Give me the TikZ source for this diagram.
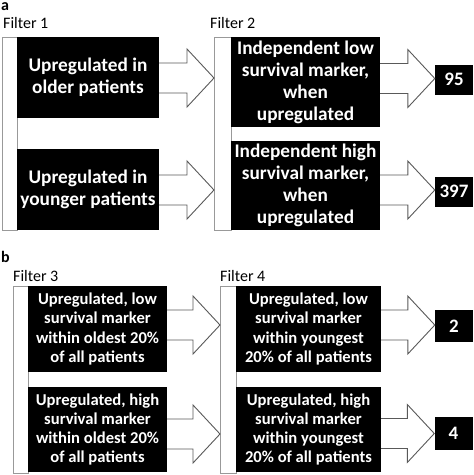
\documentclass[tikz,border=0pt]{standalone}
\usepackage{fontspec}
\setmainfont{Carlito}
\usetikzlibrary{calc}
\newcommand\fatarr[3]{%
 \draw[fat] let \p1=(#1.east), \p2=(#2.west), \p3=(0,#3) in
  (\x1,\y3+15pt) -- (\x2-27pt,\y3+15pt) -- (\x2-27pt,\y3+29pt) -- (\x2,\y3)
  -- (\x2-27pt,\y3-29pt) -- (\x2-27pt,\y3-15pt) -- (\x1,\y3-15pt);}
\begin{document}
\begin{tikzpicture}[x=1pt,y=-1pt,
 bar/.style={draw=black!40, fill=white, line width=0.9pt, inner sep=0pt, anchor=north west},
 blk/.style={fill=black, text=white, font=\bfseries\fontsize{19.3}{22}\selectfont, align=center, inner sep=0pt},
 blkb/.style={blk, font=\bfseries\fontsize{16.6}{19.3}\selectfont},
 num/.style={fill=black, text=white, font=\bfseries\fontsize{19}{22}\selectfont, inner sep=0pt, minimum width=38, minimum height=30},
 lbl/.style={font=\fontsize{16}{19}\selectfont, anchor=base west, inner sep=0pt},
 plab/.style={font=\bfseries\fontsize{16}{19}\selectfont, anchor=base west, inner sep=0pt},
 fat/.style={draw=black!65, fill=white, line width=0.9pt, line join=miter}]
\useasboundingbox (0,0) rectangle (474,475);

% panel a
\node[plab] (la) at (1,10.5) {a};
\node[lbl] (f1l) at (3,28) {Filter 1};
\node[lbl] (f2l) at (210,28) {Filter 2};
\node[bar, minimum width=15, minimum height=193] (f1) at (2,37) {};
\node[bar, minimum width=17, minimum height=193] (f2) at (214,37) {};
\node[blk, minimum width=142, minimum height=81] (a1) at (88,77.5) {Upregulated in\\older patients};
\node[blk, minimum width=142, minimum height=81] (a2) at (88,189.5) {Upregulated in\\younger patients};
\node[blk, minimum width=149, minimum height=90] (a3) at (305.5,82) {Independent low\\survival marker,\\when\\upregulated};
\node[blk, minimum width=149, minimum height=89] (a4) at (305.5,185.5) {Independent high\\survival marker,\\when\\upregulated};
\node[num] (n95) at (454,79.5) {95};
\node[num] (n397) at (454,191.5) {397};
\fatarr{a1}{f2}{78}
\fatarr{a2}{f2}{190}
\fatarr{a3}{n95}{78.5}
\fatarr{a4}{n397}{190}

% panel b
\node[plab] (lb) at (1,262) {b};
\node[lbl] (f3l) at (13,281) {Filter 3};
\node[lbl] (f4l) at (220,281) {Filter 4};
\node[bar, minimum width=15, minimum height=187] (f3) at (13,286) {};
\node[bar, minimum width=16, minimum height=187] (f4) at (220,286) {};
\node[blkb, minimum width=139, minimum height=86] (b1) at (97.5,329) {Upregulated, low\\survival marker\\within oldest 20\%\\of all patients};
\node[blkb, minimum width=139, minimum height=85] (b2) at (97.5,429.5) {Upregulated, high\\survival marker\\within oldest 20\%\\of all patients};
\node[blkb, minimum width=145, minimum height=86] (b3) at (308.5,329) {Upregulated, low\\survival marker\\within youngest\\20\% of all patients};
\node[blkb, minimum width=145, minimum height=85] (b4) at (308.5,429.5) {Upregulated, high\\survival marker\\within youngest\\20\% of all patients};
\node[num, minimum height=32] (n2) at (454,326) {2};
\node[num, minimum height=33] (n4) at (453.5,433.5) {4};
\fatarr{b1}{f4}{325}
\fatarr{b2}{f4}{434}
\fatarr{b3}{n2}{325}
\fatarr{b4}{n4}{433.5}
\end{tikzpicture}
\end{document}
